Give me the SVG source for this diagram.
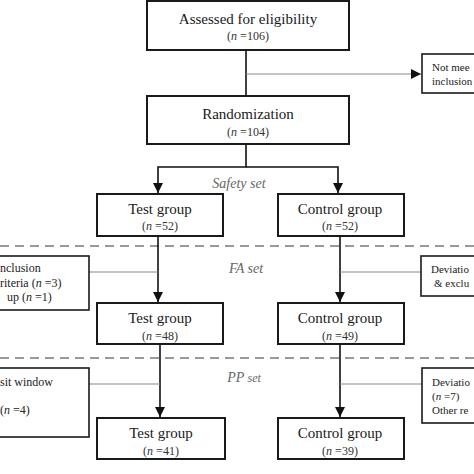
<svg xmlns="http://www.w3.org/2000/svg" width="474" height="474" viewBox="0 0 474 474">
<style>
.box{fill:#fff;stroke:#1a1a1a;stroke-width:2}
.sbox{fill:#fff;stroke:#1a1a1a;stroke-width:1.6}
.t{font-family:"Liberation Serif",serif;font-size:15px;fill:#1a1a1a;text-anchor:middle}
.n{font-family:"Liberation Serif",serif;font-size:12px;fill:#333;text-anchor:middle}
.s{font-family:"Liberation Serif",serif;font-size:12px;fill:#222}
.r{font-family:"Liberation Serif",serif;font-size:11px;fill:#222}
.lab{font-family:"Liberation Serif",serif;font-size:14px;font-style:italic;fill:#666;text-anchor:middle}
.i{font-style:italic}
.main{fill:none;stroke:#111;stroke-width:1.6}
.side{fill:none;stroke:#888;stroke-width:1}
.dash{fill:none;stroke:#999;stroke-width:2;stroke-dasharray:9 6}
</style>
<defs>
<marker id="ah" markerUnits="userSpaceOnUse" markerWidth="10" markerHeight="10" viewBox="0 0 10 10" refX="10" refY="5" orient="auto">
<path d="M0,0 L10,5 L0,10 Z" fill="#111"/>
</marker>
</defs>

<line class="dash" x1="0" y1="246" x2="474" y2="246"/>
<line class="dash" x1="0" y1="358" x2="474" y2="358"/>

<g id="connectors">
<line class="main" x1="246" y1="50" x2="246" y2="96"/>
<line class="side" x1="246" y1="74" x2="421" y2="74" marker-end="url(#ah)"/>
<polyline class="main" points="246,144 246,167 158,167 158,193" marker-end="url(#ah)"/>
<polyline class="main" points="246,167 338,167 338,193" marker-end="url(#ah)"/>
<line class="main" x1="158" y1="236" x2="158" y2="302" marker-end="url(#ah)"/>
<line class="main" x1="340" y1="236" x2="340" y2="302" marker-end="url(#ah)"/>
<line class="side" x1="89" y1="272" x2="158" y2="272"/>
<line class="side" x1="340" y1="272" x2="421" y2="272"/>
<line class="main" x1="160" y1="344" x2="160" y2="417" marker-end="url(#ah)"/>
<line class="main" x1="340" y1="344" x2="340" y2="417" marker-end="url(#ah)"/>
<line class="side" x1="89" y1="384" x2="160" y2="384"/>
<line class="side" x1="340" y1="384" x2="422" y2="384"/>
</g>

<text class="lab" x="239" y="188">Safety set</text>
<text class="lab" x="246" y="273">FA set</text>
<text class="lab" x="244" y="382">PP <tspan font-size="12">set</tspan></text>

<g id="assessed">
<rect class="box" x="147" y="1" width="202" height="49"/>
<text class="t" x="248" y="24">Assessed for eligibility</text>
<text class="n" x="248" y="40">(<tspan class="i">n</tspan> =106)</text>
</g>

<g id="not-meeting">
<rect class="sbox" x="422" y="54" width="60" height="39"/>
<text class="r" x="432" y="71">Not mee</text>
<text class="r" x="432" y="85">inclusion</text>
</g>

<g id="randomization">
<rect class="box" x="147" y="96" width="202" height="48"/>
<text class="t" x="248" y="119">Randomization</text>
<text class="n" x="248" y="136">(<tspan class="i">n</tspan> =104)</text>
</g>

<g id="test-safety">
<rect class="box" x="97" y="194" width="126" height="42"/>
<text class="t" x="160" y="214">Test group</text>
<text class="n" x="160" y="230">(<tspan class="i">n</tspan> =52)</text>
</g>

<g id="control-safety">
<rect class="box" x="278" y="194" width="126" height="42"/>
<text class="t" x="340" y="214">Control group</text>
<text class="n" x="340" y="230">(<tspan class="i">n</tspan> =52)</text>
</g>

<g id="fa-left-excluded">
<rect class="sbox" x="-5" y="256" width="94" height="54"/>
<text class="s" x="0" y="272">nclusion</text>
<text class="s" x="0" y="287">riteria (<tspan class="i">n</tspan> =3)</text>
<text class="s" x="7" y="301">up (<tspan class="i">n</tspan> =1)</text>
</g>

<g id="fa-right-excluded">
<rect class="sbox" x="421" y="256" width="60" height="40"/>
<text class="r" x="431" y="273">Deviatio</text>
<text class="r" x="434" y="287">&amp; exclu</text>
</g>

<g id="test-fa">
<rect class="box" x="97" y="303" width="126" height="41"/>
<text class="t" x="160" y="323">Test group</text>
<text class="n" x="160" y="340">(<tspan class="i">n</tspan> =48)</text>
</g>

<g id="control-fa">
<rect class="box" x="278" y="303" width="126" height="41"/>
<text class="t" x="340" y="323">Control group</text>
<text class="n" x="340" y="340">(<tspan class="i">n</tspan> =49)</text>
</g>

<g id="pp-left-excluded">
<rect class="sbox" x="-5" y="368" width="94" height="69"/>
<text class="s" x="0" y="386">sit window</text>
<text class="s" x="0" y="414">(<tspan class="i">n</tspan> =4)</text>
</g>

<g id="pp-right-excluded">
<rect class="sbox" x="422" y="368" width="60" height="55"/>
<text class="r" x="432" y="386">Deviatio</text>
<text class="r" x="432" y="400">(<tspan class="i">n</tspan> =7)</text>
<text class="r" x="432" y="414">Other re</text>
</g>

<g id="test-pp">
<rect class="box" x="97" y="418" width="128" height="41"/>
<text class="t" x="161" y="438">Test group</text>
<text class="n" x="161" y="455">(<tspan class="i">n</tspan> =41)</text>
</g>

<g id="control-pp">
<rect class="box" x="278" y="418" width="126" height="41"/>
<text class="t" x="340" y="438">Control group</text>
<text class="n" x="340" y="455">(<tspan class="i">n</tspan> =39)</text>
</g>
</svg>
